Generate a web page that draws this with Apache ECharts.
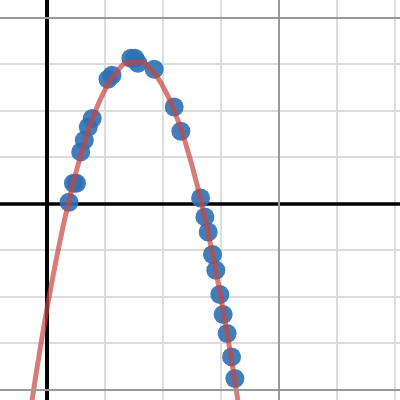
<!DOCTYPE html>
<html>
<head>
<meta charset="utf-8">
<script src="https://cdn.jsdelivr.net/npm/echarts@6/dist/echarts.min.js"></script>
<style>
html,body{margin:0;padding:0;background:#fff;width:400px;height:400px;overflow:hidden;position:relative;}
#chart{position:absolute;left:-11px;top:-29px;width:464px;height:465px;}
</style>
</head>
<body>
<div id="chart"></div>
<script>
const pointX = [0.379, 0.456, 0.508, 0.581, 0.643, 0.711, 0.780, 1.051, 1.120, 1.447, 1.516, 1.568, 1.848, 2.193, 2.308, 2.648, 2.722, 2.779, 2.854, 2.911, 2.980, 3.037, 3.106, 3.182, 3.239];
const pointY = [0.028, 0.437, 0.437, 1.110, 1.361, 1.647, 1.828, 2.673, 2.759, 3.125, 3.125, 3.017, 2.888, 2.077, 1.555, 0.120, -0.288, -0.611, -1.097, -1.434, -1.957, -2.387, -2.796, -3.299, -3.763];

// Fitted curve samples
const curveX = [-0.4, -0.2, 0.0, 0.2, 0.4, 0.6, 0.8, 1.0, 1.2, 1.4, 1.6, 1.8, 2.0, 2.2, 2.4, 2.6, 2.8, 3.0, 3.2, 3.4];
const curveY = [-5.440, -3.759, -2.262, -0.951, 0.175, 1.116, 1.871, 2.442, 2.827, 3.027, 3.042, 2.871, 2.516, 1.975, 1.249, 0.338, -0.759, -2.040, -3.507, -5.159];

// Major grid line positions
const majorX = [4];
const majorY = [4, -4];

const xRange = [-1, 7];
const yRange = [-5, 5];

const chart = echarts.init(document.getElementById('chart'), null, {renderer: 'canvas'});

const scatterData = pointX.map((x, i) => [x, pointY[i]]);
const curveData = curveX.map((x, i) => [x, curveY[i]]);

const majorLines = majorX.map(v => ({xAxis: v})).concat(majorY.map(v => ({yAxis: v})));

chart.setOption({
  animation: false,
  backgroundColor: '#ffffff',
  grid: {
    left: 0,
    right: 0,
    top: 0,
    bottom: 0,
    containLabel: false,
    show: false
  },
  xAxis: {
    type: 'value',
    min: xRange[0],
    max: xRange[1],
    interval: 1,
    axisLabel: {show: false},
    axisTick: {show: false},
    axisLine: {show: true, onZero: true, lineStyle: {color: '#000000', width: 3.5}},
    splitLine: {show: true, lineStyle: {color: '#dcdcdc', width: 2}}
  },
  yAxis: {
    type: 'value',
    min: yRange[0],
    max: yRange[1],
    interval: 1,
    axisLabel: {show: false},
    axisTick: {show: false},
    axisLine: {show: true, onZero: true, lineStyle: {color: '#000000', width: 4}},
    splitLine: {show: true, lineStyle: {color: '#dcdcdc', width: 2}}
  },
  series: [
    {
      type: 'line',
      data: [],
      z: 1,
      silent: true,
      markLine: {
        silent: true,
        symbol: ['none', 'none'],
        label: {show: false},
        lineStyle: {type: 'solid', color: '#999999', width: 2},
        data: majorLines
      }
    },
    {
      type: 'scatter',
      data: scatterData,
      symbol: 'circle',
      symbolSize: 19,
      z: 3,
      itemStyle: {color: '#2d70b3', opacity: 0.9}
    },
    {
      type: 'line',
      data: curveData,
      smooth: true,
      showSymbol: false,
      z: 4,
      lineStyle: {color: '#c74440', width: 5, opacity: 0.7}
    }
  ]
});
</script>
</body>
</html>
